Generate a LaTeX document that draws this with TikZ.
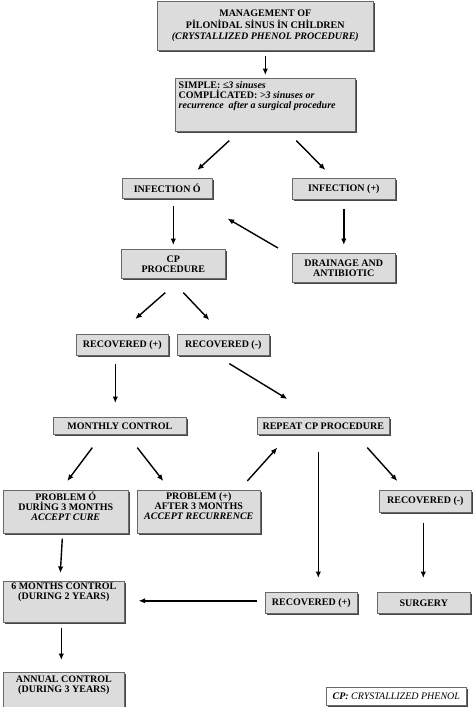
\documentclass[tikz,border=0pt]{standalone}
\usepackage{fontspec}
\setmainfont{Liberation Serif}
\usetikzlibrary{arrows.meta, shadows}

\definecolor{boxfill}{RGB}{220,220,220}
\definecolor{boxline}{RGB}{105,105,105}
\definecolor{boxshade}{RGB}{70,70,70}

\tikzset{
  fbox/.style = {draw = boxline, fill = boxfill, line width = 0.6pt, anchor = north west,
    inner sep = 1pt, align = center, font = \fontsize{10}{10}\selectfont\bfseries,
    drop shadow = {shadow xshift = 1.2pt, shadow yshift = -1.2pt, fill = boxshade, opacity = 1}},
  toptext/.style = {anchor = north, inner sep = 2pt, align = center,
    font = \fontsize{10}{10}\selectfont\bfseries},
  arr/.style = {-{Latex[length = 6.5pt, width = 5.5pt]}, line width = 1.4pt},
}

\begin{document}
\begin{tikzpicture}[x = 1pt, y = -1pt]
\useasboundingbox (0,0) rectangle (474,707);

% boxes
\node[fbox, minimum width = 216, minimum height = 49, font = \fontsize{10}{11.5}\selectfont\bfseries] (title) at (157,1)
  {MANAGEMENT OF\\ PİLONİDAL SİNUS İN CHİLDREN\\ \textit{(CRYSTALLIZED PHENOL PROCEDURE)}};
\node[fbox, minimum width = 180, minimum height = 53,
  label = {[toptext, anchor = north west, align = left, inner sep = 3.5pt]north west:SIMPLE: \textit{≤3 sinuses}\\ COMPLİCATED: \textit{>3 sinuses or}\\ \textit{recurrence\ \ after a surgical procedure}}] (simple) at (175,78) {};
\node[fbox, minimum width = 90, minimum height = 20] (infa) at (122,178) {INFECTION Ó};
\node[fbox, minimum width = 103, minimum height = 21] (infb) at (292,178) {INFECTION (+)};
\node[fbox, minimum width = 104, minimum height = 29] (cp) at (121,249) {CP\\ PROCEDURE};
\node[fbox, minimum width = 103, minimum height = 29] (drain) at (292,253) {DRAINAGE AND\\ ANTIBIOTIC};
\node[fbox, minimum width = 92, minimum height = 21] (recpa) at (76,334) {RECOVERED (+)};
\node[fbox, minimum width = 92, minimum height = 21] (recma) at (177,334) {RECOVERED (-)};
\node[fbox, minimum width = 133, minimum height = 17] (monthly) at (53,417) {MONTHLY CONTROL};
\node[fbox, minimum width = 132, minimum height = 17] (repeat) at (257,417) {REPEAT CP PROCEDURE};
\node[fbox, minimum width = 125, minimum height = 43,
  label = {[toptext]north:PROBLEM Ó\\ DURİNG 3 MONTHS\\ \textit{ACCEPT CURE}}] (proba) at (3,490) {};
\node[fbox, minimum width = 123, minimum height = 43,
  label = {[toptext]north:PROBLEM (+)\\ AFTER 3 MONTHS\\ \textit{ACCEPT RECURRENCE}}] (probb) at (137,490) {};
\node[fbox, minimum width = 92, minimum height = 22] (recmb) at (379,490) {RECOVERED (-)};
\node[fbox, minimum width = 92, minimum height = 21] (recpb) at (265,592) {RECOVERED (+)};
\node[fbox, minimum width = 93, minimum height = 21] (surg) at (377,592) {SURGERY};
\node[fbox, minimum width = 121, minimum height = 41,
  label = {[toptext]north:6 MONTHS CONTROL\\ (DURING 2 YEARS)}] (six) at (3,581) {};
\node[fbox, minimum width = 121, minimum height = 38,
  label = {[toptext, inner sep = 4pt]north:ANNUAL CONTROL\\ (DURING 3 YEARS)}] (annual) at (3,672) {};
\node[fbox, fill = white, minimum width = 140, minimum height = 18,
  font = \fontsize{10}{10}\selectfont\itshape] (legend) at (326,687) {\textbf{CP:} CRYSTALLIZED PHENOL};

% arrows
\draw[arr] ([yshift = -5pt]title.south) -- ([yshift = 3pt]simple.north);
\draw[arr] ([xshift = -36pt, yshift = -9pt]simple.south) -- ([xshift = 30pt, yshift = 8pt]infa.north);
\draw[arr] ([xshift = 31pt, yshift = -9pt]simple.south) -- ([xshift = -18.5pt, yshift = 8pt]infb.north);
\draw[arr] ([xshift = 6pt, yshift = -7pt]infa.south) -- ([yshift = 4pt]cp.north);
\draw[arr] ([yshift = -9pt]infb.south) -- ([yshift = 8pt]drain.north);
\draw[arr] ([xshift = -14pt, yshift = 5pt]drain.north west) -- ([xshift = 15pt, yshift = -20pt]infa.south east);
\draw[arr] ([xshift = -8pt, yshift = -14pt]cp.south) -- ([xshift = 13pt, yshift = 15pt]recpa.north);
\draw[arr] ([xshift = 10pt, yshift = -14pt]cp.south) -- ([xshift = -14pt, yshift = 14pt]recma.north);
\draw[arr] ([xshift = -7pt, yshift = -8pt]recpa.south) -- ([xshift = -4.5pt, yshift = 14pt]monthly.north);
\draw[arr] ([xshift = 6pt, yshift = -8pt]recma.south) -- ([xshift = -36pt, yshift = 18pt]repeat.north);
\draw[arr] ([xshift = -27.5pt, yshift = -13pt]monthly.south) -- ([xshift = 1.5pt, yshift = 9pt]proba.north);
\draw[arr] ([xshift = 17.5pt, yshift = -13pt]monthly.south) -- ([xshift = -35.5pt, yshift = 9pt]probb.north);
\draw[arr] ([xshift = 48.5pt, yshift = 9pt]probb.north) -- ([xshift = -46pt, yshift = -13pt]repeat.south);
\draw[arr] ([xshift = -5pt, yshift = -17pt]repeat.south) -- ([xshift = 7pt, yshift = 14pt]recpb.north);
\draw[arr] ([xshift = 44pt, yshift = -13pt]repeat.south) -- ([xshift = -28pt, yshift = 9pt]recmb.north);
\draw[arr] ([xshift = -3.5pt, yshift = -5pt]proba.south) -- ([xshift = -3.5pt, yshift = 8pt]six.north);
\draw[arr] ([xshift = -2pt, yshift = -10pt]recmb.south) -- ([xshift = -0.5pt, yshift = 14pt]surg.north);
\draw[arr] ([xshift = -8pt, yshift = 2pt]recpb.west) -- ([xshift = 14pt, yshift = 1pt]six.east);
\draw[arr] ([xshift = -2.5pt, yshift = -5pt]six.south) -- ([xshift = -2.5pt, yshift = 12pt]annual.north);
\end{tikzpicture}
\end{document}
